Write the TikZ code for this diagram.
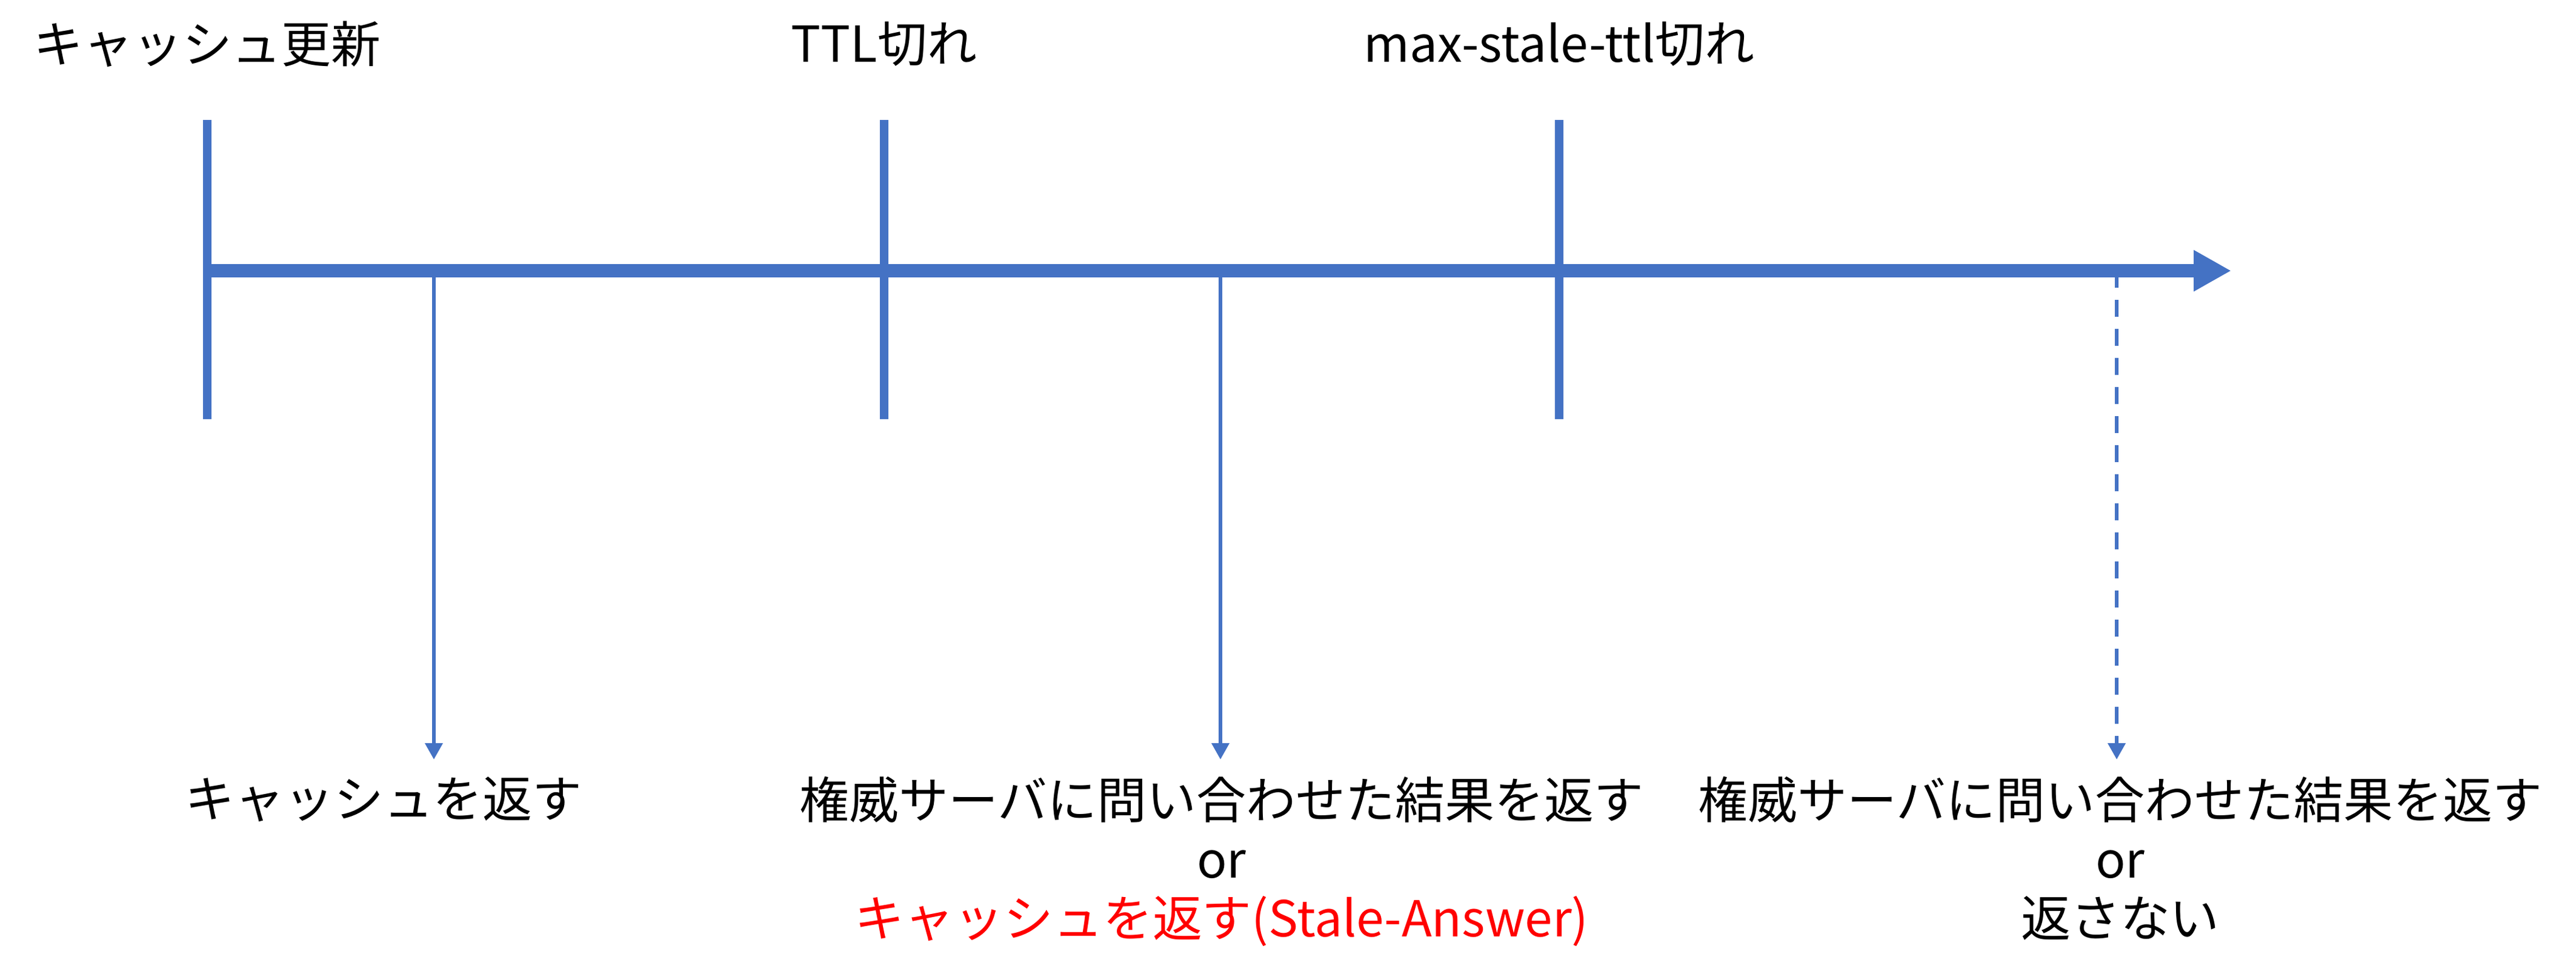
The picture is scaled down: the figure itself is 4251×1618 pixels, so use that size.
\documentclass[tikz,border=0pt]{standalone}
\usepackage{fontspec}
\setmainfont{Noto Sans CJK JP}
\usetikzlibrary{arrows.meta}
\definecolor{axisblue}{HTML}{4472C4}
\definecolor{stalered}{HTML}{FF0000}
\tikzset{
  lbl/.style={inner sep=0pt, align=center, font=\fontsize{23.3pt}{27.6pt}\selectfont},
  tickline/.style={draw=axisblue, line width=0.14cm},
  axisline/.style={draw=axisblue, line width=0.21cm, -{Triangle[length=0.62cm,width=0.64cm]}},
  thinarrow/.style={draw=axisblue, line width=0.065cm, -{Triangle[length=0.27cm,width=0.28cm]}},
  dasharrow/.style={thinarrow, dash pattern=on 0.28cm off 0.20cm}
}
\begin{document}
\begin{tikzpicture}[x=0.01cm,y=-0.01cm]
\useasboundingbox (0,0) rectangle (4251,1618);
% coordinates
\coordinate (t0top) at (342,198);
\coordinate (t0bot) at (342,692);
\coordinate (t1top) at (1459,198);
\coordinate (t1bot) at (1459,692);
\coordinate (t2top) at (2573,198);
\coordinate (t2bot) at (2573,692);
\coordinate (axstart) at (335,447);
\coordinate (axend) at (3682,447);
\coordinate (a1s) at (716,447);
\coordinate (a1e) at (716,1254);
\coordinate (a2s) at (2014,447);
\coordinate (a2e) at (2014,1254);
\coordinate (a3s) at (3493,447);
\coordinate (a3e) at (3493,1254);
% labels
\node[lbl] (top0) at (342,73) {キャッシュ更新};
\node[lbl] (top1) at (1459,73) {TTL切れ};
\node[lbl] (top2) at (2573,73) {max-stale-ttl切れ};
\node[lbl] (res1) at (633,1320) {キャッシュを返す};
\node[lbl, anchor=north] (res2) at (2016,1282) {権威サーバに問い合わせた結果を返す\\or\\\textcolor{stalered}{キャッシュを返す(Stale-Answer)}};
\node[lbl, anchor=north] (res3) at (3499,1282) {権威サーバに問い合わせた結果を返す\\or\\返さない};
% arrows
\draw[thinarrow] (a1s) -- (a1e);
\draw[thinarrow] (a2s) -- (a2e);
\draw[dasharrow] (a3s) -- (a3e);
% axis and ticks
\draw[axisline] (axstart) -- (axend);
\draw[tickline] (t0top) -- (t0bot);
\draw[tickline] (t1top) -- (t1bot);
\draw[tickline] (t2top) -- (t2bot);
\end{tikzpicture}
\end{document}
